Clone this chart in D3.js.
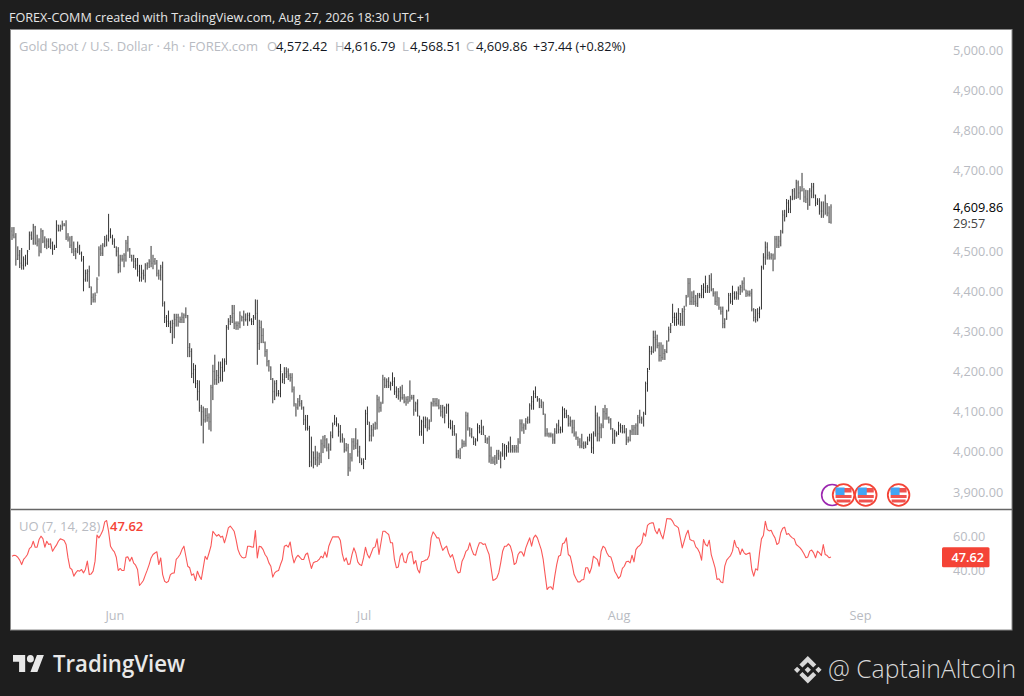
<!DOCTYPE html>
<html>
<head>
<meta charset="utf-8">
<script src="https://cdn.jsdelivr.net/npm/d3@7"></script>
<style>
  html, body { margin: 0; padding: 0; background: #1e1e1e; overflow: hidden; }
  svg { display: block; font-family: "Open Sans", "Noto Sans", sans-serif; }
</style>
</head>
<body>
<svg id="chart" width="1024" height="696"></svg>
<script>
// four hour gold bars, oldest first
const highs = [
  4560,4560,4545,4512,4503,4508,4487,4491,4503,4549,
  4549,4568,4563,4541,4532,4557,4553,4537,4532,4532,
  4532,4524,4516,4577,4566,4566,4576,4570,4577,4545,
  4537,4538,4524,4508,4524,4516,4499,4488,4454,4455,
  4464,4412,4395,4397,4435,4512,4516,4520,4538,4541,
  4593,4557,4541,4532,4512,4510,4491,4491,4495,4528,
  4538,4508,4491,4491,4483,4483,4466,4466,4454,4470,
  4472,4480,4513,4491,4483,4478,4454,4466,4474,4375,
  4341,4352,4327,4329,4344,4344,4344,4337,4347,4345,
  4360,4341,4271,4258,4221,4217,4179,4178,4117,4113,
  4109,4109,4096,4167,4217,4242,4204,4225,4225,4233,
  4233,4316,4333,4341,4366,4366,4325,4325,4350,4339,
  4352,4345,4347,4347,4333,4341,4380,4379,4329,4327,
  4308,4275,4256,4229,4213,4184,4178,4179,4154,4219,
  4196,4211,4211,4208,4196,4196,4163,4121,4134,4142,
  4129,4113,4092,4092,4065,4038,4001,4015,4001,3998,
  4031,4040,4042,4034,4021,4051,4073,4092,4086,4071,
  4067,4046,4034,4022,4020,3997,4034,4034,4059,4031,
  4015,3984,3984,4105,4113,4075,4067,4071,4075,4142,
  4138,4125,4192,4186,4183,4186,4175,4198,4186,4163,
  4159,4163,4167,4144,4138,4139,4178,4142,4142,4125,
  4131,4090,4080,4088,4088,4086,4081,4125,4134,4134,
  4134,4131,4117,4117,4113,4120,4120,4080,4078,4067,
  4046,4005,4009,4031,4028,4100,4098,4061,4059,4038,
  4034,4071,4067,4080,4065,4042,4036,4040,4013,3988,
  3992,4005,4005,4001,4022,4020,4017,4026,4038,4017,
  4017,4017,4034,4081,4081,4071,4084,4088,4121,4139,
  4153,4163,4139,4134,4131,4125,4095,4059,4048,4048,
  4046,4059,4071,4080,4063,4113,4109,4105,4092,4088,
  4080,4080,4051,4038,4034,4045,4026,4026,4038,4045,
  4046,4051,4115,4098,4088,4071,4109,4117,4109,4088,
  4084,4059,4055,4051,4075,4071,4067,4067,4059,4038,
  4055,4067,4067,4071,4092,4105,4088,4100,4175,4209,
  4264,4263,4302,4302,4292,4273,4273,4267,4256,4278,
  4312,4321,4369,4347,4347,4358,4346,4358,4364,4391,
  4433,4433,4400,4402,4391,4396,4396,4416,4420,4439,
  4416,4441,4445,4408,4400,4400,4385,4362,4362,4333,
  4354,4396,4396,4414,4400,4400,4412,4416,4427,4435,
  4404,4402,4402,4406,4358,4356,4358,4362,4464,4495,
  4524,4522,4499,4495,4494,4538,4538,4538,4553,4602,
  4603,4630,4628,4638,4655,4657,4678,4676,4662,4695,
  4657,4653,4652,4657,4670,4670,4641,4632,4632,4624,
  4624,4641,4620,4612,4616.79
];
const lows = [
  4528,4532,4464,4478,4458,4454,4454,4462,4466,4503,
  4528,4516,4516,4512,4487,4495,4520,4508,4505,4508,
  4505,4491,4503,4508,4549,4549,4553,4562,4528,4524,
  4508,4495,4488,4480,4495,4491,4474,4400,4424,4424,
  4408,4366,4372,4372,4395,4437,4488,4488,4510,4512,
  4524,4532,4516,4508,4487,4445,4447,4474,4460,4474,
  4499,4483,4474,4458,4454,4437,4424,4424,4429,4422,
  4454,4458,4460,4455,4466,4437,4429,4427,4362,4321,
  4311,4311,4296,4269,4283,4312,4312,4321,4321,4321,
  4333,4236,4236,4184,4171,4159,4128,4100,4065,4021,
  4073,4075,4055,4051,4129,4167,4167,4171,4175,4175,
  4200,4217,4304,4316,4321,4306,4304,4304,4308,4325,
  4314,4325,4314,4325,4316,4316,4329,4217,4254,4271,
  4271,4237,4213,4200,4179,4121,4129,4138,4138,4136,
  4171,4169,4184,4179,4175,4148,4113,4088,4105,4113,
  4105,4067,4053,4053,3962,3963,3959,3967,3963,3967,
  3972,3997,4009,4001,3982,4003,4034,4067,4063,4038,
  4023,4023,3998,4001,3940,3951,3976,4005,4007,3988,
  3972,3967,3957,3980,4067,4026,4026,4038,4055,4056,
  4098,4100,4120,4159,4159,4159,4153,4164,4142,4134,
  4130,4125,4130,4121,4115,4120,4125,4130,4090,4100,
  4088,4040,4040,4020,4059,4051,4055,4075,4113,4113,
  4113,4106,4088,4084,4071,4095,4059,4056,4040,4040,
  3984,3984,3982,4009,4012,4013,4053,4038,4034,4017,
  4015,4026,4046,4042,4042,4022,4020,3973,3970,3970,
  3967,3970,3980,3959,3988,3980,3988,3998,3998,3998,
  3998,3998,3998,4020,4051,4045,4055,4070,4071,4105,
  4105,4134,4125,4109,4109,4092,4038,4038,4036,4036,
  4020,4020,4045,4046,4046,4048,4084,4084,4063,4063,
  4046,4038,4030,4015,4009,4009,4007,4009,4017,4026,
  3997,3995,4038,4026,4026,4034,4059,4080,4080,4071,
  4055,4020,4020,4038,4042,4048,4046,4046,4017,4023,
  4026,4042,4042,4042,4042,4071,4070,4063,4092,4150,
  4204,4242,4246,4250,4258,4225,4225,4229,4229,4246,
  4275,4296,4321,4314,4314,4317,4314,4314,4314,4362,
  4385,4366,4366,4366,4362,4361,4383,4383,4383,4396,
  4396,4396,4400,4387,4366,4364,4354,4342,4308,4308,
  4329,4350,4369,4366,4379,4379,4379,4391,4397,4402,
  4386,4387,4387,4350,4325,4322,4325,4333,4355,4454,
  4466,4479,4479,4479,4450,4479,4508,4508,4512,4544,
  4574,4585,4595,4595,4627,4628,4630,4632,4628,4649,
  4622,4620,4603,4613,4632,4632,4612,4615,4591,4583,
  4583,4591,4587,4570,4568.51
];
const opens = [
  4550,4540,4535,4480,4490,4470,4465,4480,4470,4500,
  4540,4532,4560,4520,4525,4500,4550,4525,4515,4525,
  4512,4520,4505,4510,4565,4552,4562,4565,4565,4535,
  4530,4515,4505,4500,4500,4510,4495,4480,4430,4445,
  4450,4412,4385,4380,4390,4430,4505,4495,4515,4530,
  4530,4550,4535,4525,4510,4500,4465,4480,4480,4490,
  4520,4505,4490,4480,4475,4465,4450,4435,4445,4440,
  4465,4470,4475,4470,4475,4470,4445,4440,4460,4370,
  4335,4325,4320,4310,4320,4330,4335,4325,4330,4335,
  4340,4340,4260,4250,4195,4205,4170,4150,4110,4100,
  4080,4090,4085,4075,4160,4200,4180,4190,4185,4210,
  4200,4225,4310,4325,4335,4345,4320,4315,4320,4340,
  4335,4330,4330,4340,4330,4325,4335,4345,4270,4310,
  4290,4272,4250,4225,4212,4181,4150,4170,4145,4145,
  4200,4180,4195,4200,4190,4185,4155,4120,4110,4125,
  4120,4110,4080,4060,4058,3975,4000,3985,3980,3985,
  3990,4020,4015,4030,4010,4005,4040,4065,4075,4070,
  4050,4030,4035,4005,4010,3960,3985,4025,4015,4020,
  4000,3985,3972,3975,4095,4075,4040,4055,4060,4070,
  4130,4110,4120,4180,4165,4175,4165,4170,4175,4150,
  4140,4150,4135,4135,4125,4130,4125,4135,4135,4105,
  4120,4090,4050,4075,4065,4080,4060,4075,4120,4125,
  4120,4115,4110,4100,4110,4090,4115,4070,4060,4050,
  4045,3995,3990,4010,4020,4020,4090,4060,4045,4038,
  4025,4030,4060,4050,4060,4042,4030,4032,3990,3980,
  3975,3985,3995,3990,3995,4015,3995,4010,4020,4005,
  4010,4005,4010,4025,4070,4060,4065,4075,4080,4115,
  4125,4145,4137,4130,4115,4125,4095,4045,4045,4042,
  4042,4030,4050,4065,4055,4055,4105,4095,4090,4070,
  4075,4060,4045,4036,4025,4015,4020,4015,4020,4030,
  4035,4010,4045,4090,4045,4060,4065,4100,4095,4085,
  4080,4058,4030,4045,4045,4065,4060,4050,4050,4030,
  4030,4050,4055,4060,4065,4085,4080,4082,4095,4170,
  4200,4250,4250,4285,4280,4265,4240,4235,4245,4250,
  4275,4305,4315,4335,4335,4330,4345,4325,4350,4355,
  4385,4420,4375,4385,4375,4370,4390,4390,4405,4410,
  4420,4410,4430,4405,4395,4375,4385,4360,4350,4320,
  4330,4350,4390,4375,4395,4385,4395,4405,4410,4420,
  4405,4395,4392,4395,4355,4335,4330,4345,4355,4460,
  4485,4510,4490,4485,4490,4480,4530,4515,4525,4548,
  4590,4585,4620,4605,4630,4650,4635,4670,4645,4650,
  4660,4635,4630,4615,4650,4660,4640,4620,4625,4600,
  4600,4590,4620,4595,4572.42
];
const closes = [
  4540,4535,4480,4490,4470,4465,4480,4470,4500,4540,
  4532,4560,4520,4525,4500,4550,4525,4515,4525,4512,
  4520,4505,4510,4565,4552,4562,4565,4565,4535,4530,
  4515,4505,4500,4500,4510,4495,4480,4430,4445,4450,
  4412,4385,4380,4390,4430,4505,4495,4515,4530,4530,
  4550,4535,4525,4510,4500,4465,4480,4480,4490,4520,
  4505,4490,4480,4475,4465,4450,4435,4445,4440,4465,
  4470,4475,4470,4475,4470,4445,4440,4460,4370,4335,
  4325,4320,4310,4320,4330,4335,4325,4330,4335,4340,
  4340,4260,4250,4195,4205,4170,4150,4110,4100,4080,
  4090,4085,4075,4160,4200,4180,4190,4185,4210,4200,
  4225,4310,4325,4335,4345,4320,4315,4320,4340,4335,
  4330,4330,4340,4330,4325,4335,4345,4270,4310,4290,
  4272,4250,4225,4212,4181,4150,4170,4145,4145,4200,
  4180,4195,4200,4190,4185,4155,4120,4110,4125,4120,
  4110,4080,4060,4058,3975,4000,3985,3980,3985,3990,
  4020,4015,4030,4010,4005,4040,4065,4075,4070,4050,
  4030,4035,4005,4010,3960,3985,4025,4015,4020,4000,
  3985,3972,3975,4095,4075,4040,4055,4060,4070,4130,
  4110,4120,4180,4165,4175,4165,4170,4175,4150,4140,
  4150,4135,4135,4125,4130,4125,4135,4135,4105,4120,
  4090,4050,4075,4065,4080,4060,4075,4120,4125,4120,
  4115,4110,4100,4110,4090,4115,4070,4060,4050,4045,
  3995,3990,4010,4020,4020,4090,4060,4045,4038,4025,
  4030,4060,4050,4060,4042,4030,4032,3990,3980,3975,
  3985,3995,3990,3995,4015,3995,4010,4020,4005,4010,
  4005,4010,4025,4070,4060,4065,4075,4080,4115,4125,
  4145,4137,4130,4115,4125,4095,4045,4045,4042,4042,
  4030,4050,4065,4055,4055,4105,4095,4090,4070,4075,
  4060,4045,4036,4025,4015,4020,4015,4020,4030,4035,
  4010,4045,4090,4045,4060,4065,4100,4095,4085,4080,
  4058,4030,4045,4045,4065,4060,4050,4050,4030,4030,
  4050,4055,4060,4065,4085,4080,4082,4095,4170,4200,
  4250,4250,4285,4280,4265,4240,4235,4245,4250,4275,
  4305,4315,4335,4335,4330,4345,4325,4350,4355,4385,
  4420,4375,4385,4375,4370,4390,4390,4405,4410,4420,
  4410,4430,4405,4395,4375,4385,4360,4350,4320,4330,
  4350,4390,4375,4395,4385,4395,4405,4410,4420,4405,
  4395,4392,4395,4355,4335,4330,4345,4355,4460,4485,
  4510,4490,4485,4490,4480,4530,4515,4525,4548,4590,
  4585,4620,4605,4630,4650,4635,4670,4645,4650,4660,
  4635,4630,4615,4650,4660,4640,4620,4625,4600,4600,
  4590,4620,4595,4572,4609.86
];
// ultimate oscillator, one value per bar
const uoValues = [
  48.1,48.7,48.5,47.5,45.8,43.2,46.2,47.5,49.1,52.6,
  53.6,56.9,53.4,53.4,57.9,59.9,58.5,53.4,56.9,55,
  55.4,51,53,54.6,56.9,58.3,57.9,57.3,55,47.1,
  41.3,40.3,36.4,38.3,39.7,39.3,40.3,38.3,40.3,45.2,
  37.3,37.7,39.3,45.2,60.5,58.9,60.9,63.2,68.3,69.1,
  62.8,54,52,50.7,47.5,39.7,40.9,39.7,39.7,47.5,
  47.7,45.2,47.5,44,42.8,40.3,30.9,32.2,33.8,37,
  39.9,43.2,47.1,49.1,50,50.7,43.2,47.1,37.3,33.4,
  32.6,33.4,37.3,38.1,38.3,46.2,47.5,49.1,52,54,
  48.1,42.2,41.3,36.9,37.7,33.8,39.3,36.4,34.4,41.3,
  48.1,46.2,50,54,62.8,61.3,59.9,60.9,59.3,59.9,
  56,59.9,64.8,65.8,64.4,62.8,57.9,52,49.1,47.5,
  47.1,47.5,54,54,53.6,53.4,63.2,47.1,54,53.6,
  52,49.1,47.5,44.2,42.2,35.8,38.3,39.3,39.7,43.2,
  46.2,54,54.6,53.4,56.5,49.1,44.2,47.1,48.7,47.5,
  46.2,46.2,49.1,50,45.2,40.9,44.2,44.8,45.2,46.2,
  48.1,47.1,50.7,47.5,54,56.9,59.5,59.5,59.5,59.5,
  57.3,49.5,45.2,47.1,43.2,43.6,49.1,53,50,44.8,
  43.2,42.6,47.1,53.4,49.1,47.1,50,53,53.6,58.3,
  49.1,55.9,62.8,62.8,61.8,60.9,56,56,46.2,41.3,
  41.8,48.1,50,44.8,44.2,49.1,50.5,50.7,43.6,45.6,
  40.3,38.3,44.8,45.2,45.8,46.2,48.5,58.9,62.4,60.9,
  58.9,58.9,55,51.5,53,54,50,47.5,49.1,45.2,
  40.3,38.3,38.7,45.2,47.5,51,52,56,52,49.1,
  48.7,53,56,56,55,55.4,52,49.1,41.3,33.8,
  34.4,35.4,38.3,44.2,51,54,54,55.4,54,50,
  43.2,44.2,49.1,50.7,50.5,48.1,53,56,58.9,54,
  58.9,60.5,58.9,55.4,52,46.2,37.3,28.5,29.9,30.1,
  28.5,36.4,43.2,48.1,48.7,55.4,56,58.9,49.1,48.1,
  43.2,37.3,35,33,33,34.2,34.4,41.3,41.3,38.1,
  41.3,48.1,47.1,46.2,42.2,51,54,53,50,48.1,
  47.7,44.2,39.3,37.3,35,36.4,40.9,42.2,44.8,45.2,
  44.2,48.7,44.8,52,53.6,54.4,56,61.8,59.9,66.3,
  67.3,67.7,67.7,63.2,61.3,64.4,60.9,58.3,63.8,70.3,
  70.1,70.1,68.7,66.4,65.8,64.8,58.9,53,57,60.9,
  63.4,57.9,57.4,57,53.6,52.4,50.1,45.8,57.9,55,
  54,57.5,49.1,45.2,41.3,34.4,34.8,32.9,32.5,42.3,
  45.8,47.2,48.5,51.1,57.5,53.6,53,49.1,52.4,50.1,
  49.1,49.7,50.1,40.3,36.4,40.7,39.9,50.1,58.3,60.3,
  68.7,63.8,63,63.4,60.9,58.9,55,56,61.9,64.6,
  65.2,60.9,61.5,59.9,58.9,58.3,55,54,53,51.5,
  49.5,47.2,47.7,51.1,51.7,50.1,47.2,51.1,50.1,48.5,
  55,49.1,48.5,47.2,47.62
];
const priceTicks = [3900, 4000, 4100, 4200, 4300, 4400, 4500, 4700, 4800, 4900, 5000];
const uoTicks = [40, 60];
const monthLabels = ['Jun', 'Jul', 'Aug', 'Sep'];
const monthBars = [53, 182, 314, 439];
const eventBars = [424.6, 430.5, 442, 459];

const svg = d3.select('#chart');
const fmt = d3.format(',.2f');
const gray = '#b8bbc2';

const x = d3.scaleLinear().domain([0, 424]).range([12, 831]);
const y = d3.scaleLinear().domain([3900, 5000]).range([492, 50.5]);
const yUo = d3.scaleLinear().domain([40, 60]).range([570, 536]);

// frame
svg.append('rect').attr('x', 10.5).attr('y', 29.5).attr('width', 1001.5).attr('height', 600.5)
  .attr('fill', '#fff').attr('stroke', '#8a8a8a').attr('stroke-width', 1);
svg.append('line').attr('x1', 11).attr('x2', 1012).attr('y1', 509.5).attr('y2', 509.5)
  .attr('stroke', '#666').attr('stroke-width', 1.4);

// ohlc bars, the ticks are faint at this size
const bars = svg.append('g').selectAll('g').data(closes).join('g').attr('stroke', '#111');
bars.append('line')
  .attr('x1', (d, i) => x(i)).attr('x2', (d, i) => x(i))
  .attr('y1', (d, i) => y(highs[i])).attr('y2', (d, i) => y(lows[i]))
  .attr('stroke-width', 0.85);
bars.append('line')
  .attr('x1', (d, i) => x(i) - 1).attr('x2', (d, i) => x(i))
  .attr('y1', (d, i) => y(opens[i])).attr('y2', (d, i) => y(opens[i]))
  .attr('stroke-width', 0.7).attr('stroke-opacity', 0.2);
bars.append('line')
  .attr('x1', (d, i) => x(i)).attr('x2', (d, i) => x(i) + 1)
  .attr('y1', (d) => y(d)).attr('y2', (d) => y(d))
  .attr('stroke-width', 0.7).attr('stroke-opacity', 0.2);

// oscillator
const uoLine = d3.line().x((d, i) => x(i)).y((d) => yUo(d));
svg.append('path').attr('d', uoLine(uoValues)).attr('fill', 'none')
  .attr('stroke', '#fa5858').attr('stroke-width', 1.1).attr('stroke-linejoin', 'round');

// axes
function cleanAxis(g, color) {
  g.select('.domain').remove();
  g.selectAll('.tick line').remove();
  g.selectAll('text').attr('fill', color || gray).attr('font-size', 12.7)
    .attr('font-family', '"Open Sans", sans-serif');
}
svg.append('g').attr('transform', 'translate(953,0)')
  .call(d3.axisRight(y).tickValues(priceTicks).tickFormat(fmt).tickSize(0).tickPadding(0))
  .call(cleanAxis);
svg.append('g').attr('transform', 'translate(953,0)')
  .call(d3.axisRight(yUo).tickValues(uoTicks).tickFormat(fmt).tickSize(0).tickPadding(0))
  .call(cleanAxis);
svg.append('g').attr('transform', 'translate(0,605)')
  .call(d3.axisBottom(x).tickValues(monthBars).tickFormat((d, i) => monthLabels[i]).tickSize(0).tickPadding(6))
  .call(cleanAxis);

// last price and countdown
svg.append('text').attr('x', 953).attr('y', y(closes[424]) + 4.5).attr('font-size', 12.7).attr('fill', '#000')
  .attr('font-weight', 500).text(fmt(closes[424]));
svg.append('text').attr('x', 953).attr('y', 228).attr('font-size', 12.7).attr('fill', '#444')
  .text('29:57');
svg.append('rect').attr('x', 942).attr('y', 547.3).attr('width', 47.5).attr('height', 20).attr('rx', 1.5)
  .attr('fill', '#f44336');
svg.append('text').attr('x', 951.5).attr('y', yUo(uoValues[424]) + 4.5).attr('font-size', 12.7)
  .attr('font-weight', 600).attr('fill', '#fff').text(fmt(uoValues[424]));

// event icons on the time line
const icons = svg.append('g');
icons.append('circle').attr('cx', x(eventBars[0])).attr('cy', 495).attr('r', 10.5)
  .attr('fill', '#fff').attr('stroke', '#9c27b0').attr('stroke-width', 1.6);
eventBars.slice(1).forEach((b) => {
  const g = icons.append('g').attr('transform', `translate(${x(b)},495)`);
  g.append('circle').attr('r', 10.8).attr('fill', '#fff').attr('stroke', '#f44336').attr('stroke-width', 1.8);
  g.append('rect').attr('x', -8).attr('y', -7).attr('width', 16).attr('height', 4.5).attr('fill', '#ef5350');
  g.append('rect').attr('x', -8).attr('y', 0).attr('width', 16).attr('height', 3).attr('fill', '#ef5350');
  g.append('rect').attr('x', -7).attr('y', 4.5).attr('width', 14).attr('height', 3).attr('fill', '#ef5350');
  g.append('rect').attr('x', -8).attr('y', -7.5).attr('width', 9).attr('height', 7.5).attr('fill', '#42a5f5');
});

// header and legend
svg.append('text').attr('x', 9).attr('y', 22).attr('font-size', 12.6).attr('fill', '#e6e6e6')
  .text('FOREX-COMM created with TradingView.com, Aug 27, 2026 18:30 UTC+1');
function label(px, py, txt, color, weight, size) {
  svg.append('text').attr('x', px).attr('y', py).attr('font-size', size || 13).attr('fill', color)
    .attr('font-weight', weight || 400).text(txt);
}
label(19, 51, 'Gold Spot / U.S. Dollar · 4h · FOREX.com', gray);
label(267, 51, 'O', gray);
label(276, 51, fmt(opens[424]), '#131722');
label(335, 51, 'H', gray);
label(344, 51, fmt(highs[424]), '#131722');
label(402, 51, 'L', gray);
label(410, 51, fmt(lows[424]), '#131722');
label(466, 51, 'C', gray);
label(476, 51, fmt(closes[424]), '#131722');
label(533, 51, '+37.44 (+0.82%)', '#131722', 400, 12.6);
label(19, 530.5, 'UO (7, 14, 28)', gray);
label(110, 530.5, fmt(uoValues[424]), '#f44336', 600);

// footer marks
const tv = svg.append('g').attr('transform', 'translate(13,651.2) scale(0.87,0.95)').attr('fill', '#e8e8e8');
tv.append('path').attr('d', 'M14 22H7V11H0V4h14v18zM28 22h-8l7.5-18h8L28 22z');
tv.append('circle').attr('cx', 20).attr('cy', 8).attr('r', 4);
svg.append('text').attr('x', 53).attr('y', 672).attr('font-size', 24).attr('font-weight', 600)
  .attr('fill', '#e8e8e8').attr('textLength', 132).attr('lengthAdjust', 'spacingAndGlyphs').text('TradingView');
const bn = svg.append('g').attr('transform', 'translate(794,656) scale(0.218)').attr('fill', '#d8d8d8');
bn.append('path').attr('d', 'M38.73 53.2l24.59-24.58 24.6 24.6 14.3-14.31L63.32 0 24.43 38.9zM0 63.31l14.3-14.31 14.31 14.31-14.31 14.3zM38.73 73.41l24.59 24.59 24.6-24.6 14.31 14.29-38.9 38.91-38.91-38.88-.02-.02zM98 63.31l14.3-14.31 14.31 14.3-14.31 14.32z');
bn.append('path').attr('d', 'M77.83 63.3L63.32 48.78 52.59 59.51l-1.24 1.23-2.54 2.54 14.51 14.5 14.51-14.47z');
svg.append('text').attr('x', 828).attr('y', 678).attr('font-size', 25).attr('font-weight', 300)
  .attr('fill', '#d8d8d8').attr('textLength', 188).attr('lengthAdjust', 'spacingAndGlyphs').text('@ CaptainAltcoin');
</script>
</body>
</html>
